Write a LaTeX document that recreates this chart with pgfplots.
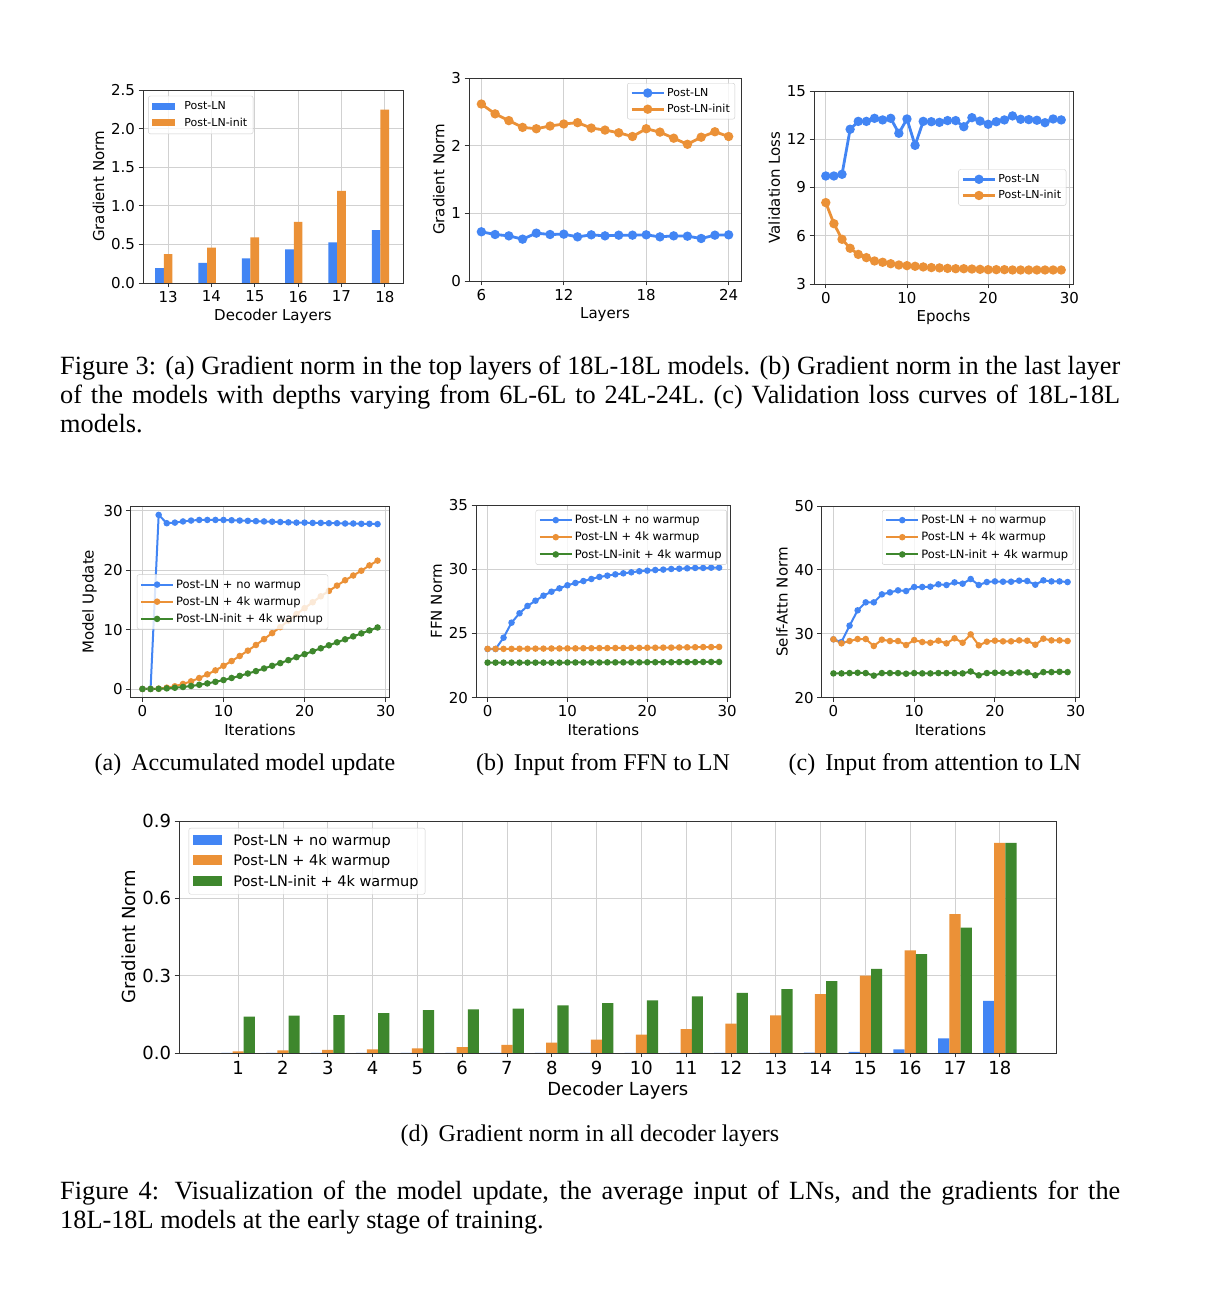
\documentclass[border=0pt]{standalone}
\usepackage{fontspec}
\setmainfont{Liberation Serif}
\newfontfamily\dv{DejaVu Sans}
\usepackage{pgfplots}
\pgfplotsset{compat=1.18}
\definecolor{cb}{RGB}{66,133,244}
\definecolor{co}{RGB}{235,145,55}
\definecolor{cg}{RGB}{62,135,45}

\pgfplotsset{
  mpl/.style={
    scale only axis, anchor=north west,
    axis line style={black!80,line width=0.9pt},
    grid=major, grid style={black!18,line width=0.8pt},
    tick align=outside, major tick length=4.5pt,
    tick style={black!80,line width=0.9pt},
    tick pos=left,
    /pgf/number format/assume math mode=true,
    tick label style={font=\dv\fontsize{15}{18}\selectfont},
    label style={font=\dv\fontsize{15}{18}\selectfont},
    legend style={font=\dv\fontsize{11}{13}\selectfont, draw=black!20,
      rounded corners=2pt, fill=white, fill opacity=0.8, text opacity=1,
      row sep=2.5pt, inner sep=3pt},
    legend cell align=left,
  },
  mybarleg/.style={legend image code/.code={%
    \fill[##1,draw=none,sharp corners,fill opacity=1] (2pt,-3.5pt) rectangle (25pt,4.2pt);
    \path (32pt,0pt);}},
  mylineleg/.style={legend image code/.code={%
    \draw[mark repeat=2,mark phase=2,##1,fill opacity=1,draw opacity=1] plot coordinates {(0pt,0pt) (16pt,0pt) (32pt,0pt)};}},
  mybig/.style={line width=2.8pt, mark=*, mark size=3.2pt},
  mysmall/.style={line width=2pt, mark=*, mark size=2.2pt},
  myone/.style={/pgf/number format/.cd,fixed,fixed zerofill,precision=1},
}

\begin{document}
\begin{tikzpicture}[x=1pt,y=1pt]
\fill[white] (0,0) rectangle (1211,1292);
\path[use as bounding box] (0,0) rectangle (1211,1292);

% ---------- Figure 3 (a)
\begin{axis}[mpl, at={(143pt,1202pt)}, width=260pt, height=193pt,
  xmin=12.42, xmax=18.42, ymin=0, ymax=2.5,
  xtick={13,...,18}, ytick={0,0.5,1,1.5,2,2.5}, yticklabel style={myone},
  xlabel={Decoder Layers}, ylabel={Gradient Norm},
  legend style={at={(0.02,0.97)},anchor=north west, inner sep=4pt},
  ybar, bar width=0.2, mybarleg]
\addplot[fill=cb,draw=none,bar shift=-0.2] coordinates {(13,0.194)(14,0.26)(15,0.32)(16,0.435)(17,0.526)(18,0.685)};
\addplot[fill=co,draw=none,bar shift=0] coordinates {(13,0.375)(14,0.457)(15,0.59)(16,0.793)(17,1.194)(18,2.246)};
\legend{Post-LN,Post-LN-init}
\end{axis}

% ---------- Figure 3 (b)
\begin{axis}[mpl, mylineleg, at={(469pt,1214pt)}, width=272pt, height=203pt,
  xmin=5.1, xmax=24.9, ymin=0, ymax=3,
  xtick={6,12,18,24}, ytick={0,1,2,3},
  xlabel={Layers}, ylabel={Gradient Norm},
  legend style={at={(0.978,0.975)},anchor=north east}]
\addplot[cb,mybig] coordinates {(6,0.727)(7,0.687)(8,0.667)(9,0.618)(10,0.707)(11,0.687)(12,0.692)(13,0.652)(14,0.682)(15,0.667)(16,0.677)(17,0.677)(18,0.682)(19,0.652)(20,0.667)(21,0.662)(22,0.628)(23,0.677)(24,0.682)};
\addplot[co,mybig] coordinates {(6,2.615)(7,2.47)(8,2.37)(9,2.27)(10,2.25)(11,2.29)(12,2.32)(13,2.34)(14,2.26)(15,2.23)(16,2.19)(17,2.135)(18,2.25)(19,2.2)(20,2.11)(21,2.02)(22,2.125)(23,2.205)(24,2.135)};
\legend{Post-LN,Post-LN-init}
\end{axis}

% ---------- Figure 3 (c)
\begin{axis}[mpl, mylineleg, at={(814pt,1201pt)}, width=259pt, height=193pt,
  xmin=-1.45, xmax=30.45, ymin=3, ymax=15,
  xtick={0,10,20,30}, ytick={3,6,9,12,15},
  xlabel={Epochs}, ylabel={Validation Loss},
  legend style={at={(0.974,0.5)},anchor=east}]
\addplot[cb,mybig] coordinates {(0,9.715)(1,9.715)(2,9.82)(3,12.62)(4,13.11)(5,13.11)(6,13.3)(7,13.2)(8,13.3)(9,12.37)(10,13.26)(11,11.62)(12,13.11)(13,13.09)(14,13.05)(15,13.16)(16,13.16)(17,12.78)(18,13.34)(19,13.13)(20,12.93)(21,13.09)(22,13.2)(23,13.45)(24,13.24)(25,13.22)(26,13.18)(27,13.03)(28,13.26)(29,13.2)};
\addplot[co,mybig] coordinates {(0,8.06)(1,6.75)(2,5.78)(3,5.22)(4,4.84)(5,4.64)(6,4.43)(7,4.35)(8,4.26)(9,4.18)(10,4.14)(11,4.1)(12,4.06)(13,4.02)(14,4.0)(15,3.97)(16,3.95)(17,3.95)(18,3.93)(19,3.91)(20,3.89)(21,3.89)(22,3.89)(23,3.87)(24,3.87)(25,3.87)(26,3.87)(27,3.87)(28,3.87)(29,3.87)};
\legend{Post-LN,Post-LN-init}
\end{axis}

\node[anchor=base west, text width=1060pt, align=justify, inner sep=0pt,
  font=\fontsize{26.3}{29}\selectfont] at (60,917)
  {Figure 3: (a) Gradient norm in the top layers of 18L-18L models. (b) Gradient norm in the last layer\linebreak
   of the models with depths varying from 6L-6L to 24L-24L. (c) Validation loss curves of 18L-18L\linebreak
   models.};

% ---------- Figure 4 (a)
\begin{axis}[mpl, mylineleg, at={(130.7pt,786pt)}, width=258.6pt, height=191.7pt,
  xmin=-1.45, xmax=30.45, ymin=-1.47, ymax=30.8,
  xtick={0,10,20,30}, ytick={0,10,20,30},
  xlabel={Iterations}, ylabel={Model Update},
  legend style={at={(0.024,0.5)},anchor=west,font=\dv\fontsize{11.5}{13}\selectfont,row sep=3pt}]
\addplot[cb,mysmall] coordinates {(0,0)(1,0)(2,29.3)(3,27.9)(4,28.0)(5,28.2)(6,28.35)(7,28.45)(8,28.45)(9,28.45)(10,28.45)(11,28.4)(12,28.35)(13,28.3)(14,28.25)(15,28.2)(16,28.15)(17,28.1)(18,28.05)(19,28.0)(20,28.0)(21,27.95)(22,27.95)(23,27.9)(24,27.9)(25,27.85)(26,27.85)(27,27.8)(28,27.8)(29,27.75)};
\addplot[co,mysmall] coordinates {(0,0)(1,0)(2,0.05)(3,0.22)(4,0.45)(5,0.84)(6,1.28)(7,1.84)(8,2.46)(9,3.13)(10,3.9)(11,4.7)(12,5.55)(13,6.45)(14,7.4)(15,8.4)(16,9.4)(17,10.4)(18,11.5)(19,12.6)(20,13.6)(21,14.6)(22,15.6)(23,16.5)(24,17.4)(25,18.3)(26,19.1)(27,19.9)(28,20.8)(29,21.6)};
\addplot[cg,mysmall] coordinates {(0,0)(1,0)(2,0.03)(3,0.1)(4,0.2)(5,0.33)(6,0.5)(7,0.7)(8,0.93)(9,1.2)(10,1.5)(11,1.85)(12,2.2)(13,2.6)(14,3.0)(15,3.45)(16,3.9)(17,4.35)(18,4.85)(19,5.35)(20,5.85)(21,6.35)(22,6.85)(23,7.35)(24,7.85)(25,8.35)(26,8.85)(27,9.35)(28,9.85)(29,10.35)};
\legend{Post-LN + no warmup,Post-LN + 4k warmup,Post-LN-init + 4k warmup}
\end{axis}

% ---------- Figure 4 (b)
\begin{axis}[mpl, mylineleg, at={(476pt,787pt)}, width=254.7pt, height=192.7pt,
  xmin=-1.45, xmax=30.45, ymin=20, ymax=35,
  xtick={0,10,20,30}, ytick={20,25,30,35},
  xlabel={Iterations}, ylabel={FFN Norm},
  legend style={at={(0.985,0.974)},anchor=north east,font=\dv\fontsize{11.5}{13}\selectfont,row sep=3pt}]
\addplot[cb,mysmall] coordinates {(0,23.79)(1,23.79)(2,24.67)(3,25.84)(4,26.57)(5,27.14)(6,27.55)(7,27.94)(8,28.25)(9,28.51)(10,28.75)(11,28.93)(12,29.08)(13,29.24)(14,29.4)(15,29.5)(16,29.6)(17,29.68)(18,29.76)(19,29.84)(20,29.89)(21,29.94)(22,29.97)(23,30.02)(24,30.04)(25,30.07)(26,30.1)(27,30.1)(28,30.12)(29,30.12)};
\addplot[co,mysmall] coordinates {(0,23.8)(1,23.8)(2,23.8)(3,23.8)(4,23.81)(5,23.81)(6,23.82)(7,23.82)(8,23.83)(9,23.83)(10,23.84)(11,23.84)(12,23.85)(13,23.85)(14,23.86)(15,23.86)(16,23.87)(17,23.87)(18,23.88)(19,23.88)(20,23.89)(21,23.89)(22,23.9)(23,23.9)(24,23.91)(25,23.92)(26,23.93)(27,23.94)(28,23.94)(29,23.95)};
\addplot[cg,mysmall] coordinates {(0,22.73)(1,22.73)(2,22.73)(3,22.73)(4,22.73)(5,22.73)(6,22.73)(7,22.73)(8,22.73)(9,22.73)(10,22.74)(11,22.74)(12,22.74)(13,22.74)(14,22.74)(15,22.75)(16,22.75)(17,22.75)(18,22.75)(19,22.75)(20,22.76)(21,22.76)(22,22.76)(23,22.76)(24,22.77)(25,22.77)(26,22.77)(27,22.78)(28,22.78)(29,22.78)};
\legend{Post-LN + no warmup,Post-LN + 4k warmup,Post-LN-init + 4k warmup}
\end{axis}

% ---------- Figure 4 (c)
\begin{axis}[mpl, mylineleg, at={(821.7pt,786pt)}, width=257.6pt, height=191.7pt,
  xmin=-1.45, xmax=30.45, ymin=20, ymax=50,
  xtick={0,10,20,30}, ytick={20,30,40,50},
  xlabel={Iterations}, ylabel={Self-Attn Norm},
  legend style={at={(0.977,0.979)},anchor=north east,font=\dv\fontsize{11.5}{13}\selectfont,row sep=3pt}]
\addplot[cb,mysmall] coordinates {(0,29.13)(1,28.71)(2,31.27)(3,33.67)(4,34.92)(5,34.92)(6,36.17)(7,36.48)(8,36.8)(9,36.69)(10,37.32)(11,37.32)(12,37.37)(13,37.74)(14,37.63)(15,38.05)(16,37.84)(17,38.57)(18,37.63)(19,38.1)(20,38.2)(21,38.15)(22,38.15)(23,38.31)(24,38.26)(25,37.68)(26,38.36)(27,38.2)(28,38.2)(29,38.1)};
\addplot[co,mysmall] coordinates {(0,29.13)(1,28.5)(2,28.87)(3,29.18)(4,29.18)(5,28.09)(6,29.08)(7,28.87)(8,28.87)(9,28.24)(10,29.02)(11,28.71)(12,28.6)(13,28.92)(14,28.5)(15,29.29)(16,28.6)(17,29.91)(18,28.19)(19,28.76)(20,28.92)(21,28.82)(22,28.82)(23,28.97)(24,28.92)(25,28.29)(26,29.23)(27,28.97)(28,28.97)(29,28.87)};
\addplot[cg,mysmall] coordinates {(0,23.8)(1,23.8)(2,23.85)(3,23.9)(4,23.85)(5,23.45)(6,23.85)(7,23.85)(8,23.85)(9,23.75)(10,23.85)(11,23.8)(12,23.8)(13,23.85)(14,23.85)(15,23.85)(16,23.8)(17,24.1)(18,23.5)(19,23.85)(20,23.9)(21,23.9)(22,23.85)(23,23.95)(24,23.95)(25,23.5)(26,24.0)(27,24.0)(28,24.05)(29,24.0)};
\legend{Post-LN + no warmup,Post-LN + 4k warmup,Post-LN-init + 4k warmup}
\end{axis}

\node[anchor=base, inner sep=0pt, font=\fontsize{24}{29}\selectfont] at (245,521) {(a)\, Accumulated model update};
\node[anchor=base, inner sep=0pt, font=\fontsize{24}{29}\selectfont] at (603,521) {(b)\, Input from FFN to LN};
\node[anchor=base, inner sep=0pt, font=\fontsize{24}{29}\selectfont] at (935,521) {(c)\, Input from attention to LN};

% ---------- Figure 4 (d)
\begin{axis}[mpl, at={(179pt,471pt)}, width=877.7pt, height=232pt,
  xmin=-0.32, xmax=19.27, ymin=0, ymax=0.9,
  xtick={1,...,18}, ytick={0,0.3,0.6,0.9}, yticklabel style={myone},
  tick label style={font=\dv\fontsize{18}{21}\selectfont},
  label style={font=\dv\fontsize{18}{21}\selectfont},
  xlabel={Decoder Layers}, ylabel={Gradient Norm},
  legend style={at={(0.011,0.97)},anchor=north west,font=\dv\fontsize{14.5}{17}\selectfont,
    row sep=4pt, inner sep=4.5pt},
  ybar, bar width=0.25,
  legend image code/.code={\fill[#1,draw=none,sharp corners,fill opacity=1] (2pt,-4.5pt) rectangle (31pt,5.5pt);
    \path (40pt,0pt);}]
\addplot[fill=cb,draw=none,bar shift=-0.25] coordinates {(1,0)(2,0)(3,0)(4,0)(5,0)(6,0)(7,0)(8,0)(9,0)(10,0)(11,0)(12,0)(13,0)(14,0.001)(15,0.004)(16,0.014)(17,0.057)(18,0.202)};
\addplot[fill=co,draw=none,bar shift=0] coordinates {(1,0.006)(2,0.01)(3,0.012)(4,0.014)(5,0.018)(6,0.023)(7,0.031)(8,0.04)(9,0.052)(10,0.071)(11,0.093)(12,0.114)(13,0.146)(14,0.228)(15,0.3)(16,0.398)(17,0.539)(18,0.815)};
\addplot[fill=cg,draw=none,bar shift=0.25] coordinates {(1,0.141)(2,0.145)(3,0.147)(4,0.155)(5,0.166)(6,0.169)(7,0.172)(8,0.185)(9,0.193)(10,0.204)(11,0.22)(12,0.233)(13,0.248)(14,0.279)(15,0.326)(16,0.384)(17,0.486)(18,0.815)};
\legend{Post-LN + no warmup,Post-LN + 4k warmup,Post-LN-init + 4k warmup}
\end{axis}

\node[anchor=base, inner sep=0pt, font=\fontsize{24}{29}\selectfont] at (590,150) {(d)\, Gradient norm in all decoder layers};

\node[anchor=base west, text width=1060pt, align=justify, inner sep=0pt,
  font=\fontsize{26.3}{29}\selectfont] at (60,92)
  {Figure 4: Visualization of the model update, the average input of LNs, and the gradients for the\linebreak
   18L-18L models at the early stage of training.};
\end{tikzpicture}
\end{document}
